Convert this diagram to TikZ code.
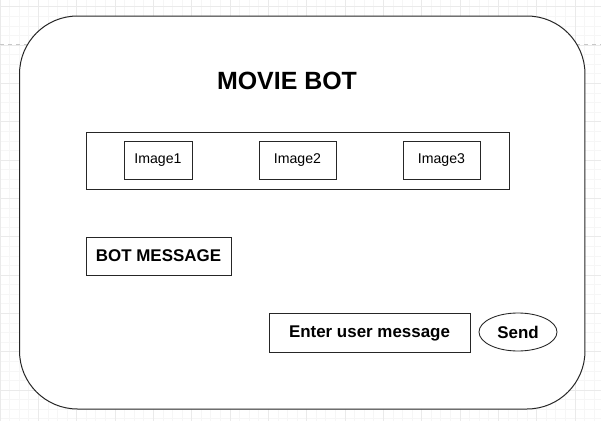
\documentclass[tikz,border=0pt]{standalone}
\usepackage{fontspec}
\setmainfont{Liberation Sans}
\usetikzlibrary{shapes.geometric}
\definecolor{gridminor}{HTML}{F6F6F6}
\definecolor{gridmajor}{HTML}{EAEAEA}
\definecolor{pagebreak}{HTML}{C8C8C8}
\tikzset{
  box/.style={draw=black!85, line width=0.65pt, fill=white, inner sep=0pt, align=center},
  imgbox/.style={box, minimum height=28.5pt, font=\fontsize{10.6}{12}\selectfont},
  boldbox/.style={box, font=\fontsize{12.7}{15}\selectfont\bfseries},
}
\begin{document}
\begin{tikzpicture}[x=0.75pt,y=-0.75pt]
\useasboundingbox (0,0) rectangle (601,421);
\fill[white] (0,0) rectangle (601,421);
% grid
\foreach \i in {0,...,62} {
  \draw[gridminor, line width=0.5pt] ({9.583*\i},0) -- ({9.583*\i},421);
}
\foreach \j in {0,...,44} {
  \draw[gridminor, line width=0.5pt] (0,{-2.883+9.583*\j}) -- (601,{-2.883+9.583*\j});
}
\foreach \i in {0,...,15} {
  \draw[gridmajor, line width=0.5pt] ({38.333*\i},0) -- ({38.333*\i},421);
}
\foreach \j in {0,...,10} {
  \draw[gridmajor, line width=0.5pt] (0,{6.7+38.333*\j}) -- (601,{6.7+38.333*\j});
}
\draw[pagebreak, dashed, line width=0.5pt] (0,44) -- (601,44);
% frame
\node[draw=black!85, line width=0.75pt, fill=white, rounded corners=43.5pt,
      minimum width=424.1pt, minimum height=294.75pt, inner sep=0pt] (frame) at (302.25,212.5) {};
\node[font=\fontsize{18.7}{22}\selectfont\bfseries] (title) at (287,81) {MOVIE BOT};
% images strip
\node[box, minimum width=317.25pt, minimum height=42.75pt] (strip) at (297.5,160.5) {};
\node[imgbox, minimum width=51pt] (img1) at (158,160) {Image1};
\node[imgbox, minimum width=57.75pt] (img2) at (297.5,160) {Image2};
\node[imgbox, minimum width=57.75pt] (img3) at (441.5,160) {Image3};
% messages
\node[boldbox, minimum width=108.75pt, minimum height=28.5pt] (botmsg) at (158.5,256) {BOT MESSAGE};
\node[boldbox, minimum width=150.75pt, minimum height=29.25pt] (user) at (369.5,332.5) {};
\node[font=\fontsize{12.7}{15}\selectfont\bfseries, inner sep=0pt] (usertext) at (369.5,333.5) {Enter user message};
\node[boldbox, ellipse, minimum width=58.5pt, minimum height=28.5pt] (send) at (518,332) {Send};
\end{tikzpicture}
\end{document}
